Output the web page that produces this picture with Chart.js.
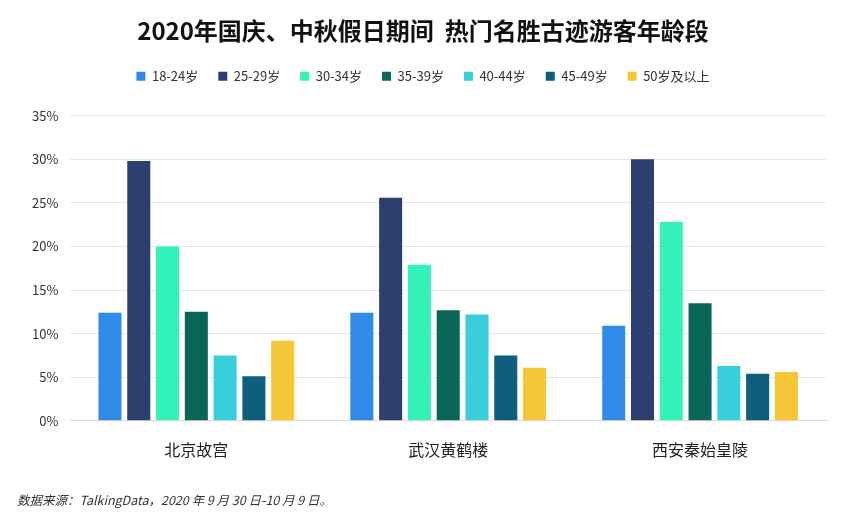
<!DOCTYPE html>
<html>
<head>
<meta charset="utf-8">
<script src="https://cdn.jsdelivr.net/npm/chart.js@4"></script>
<style>
  html, body { margin: 0; padding: 0; background: #fff; }
  #wrap { position: relative; width: 848px; height: 524px; }
  #note {
    position: absolute; left: 17px; top: 490px;
    font: italic 12.5px "Noto Sans CJK SC", "Noto Sans", sans-serif;
    color: #333;
  }
</style>
</head>
<body>
<div id="wrap">
  <canvas id="chart" width="848" height="524"></canvas>
  <div id="note">数据来源：TalkingData，2020 年 9 月 30 日-10 月 9 日。</div>
</div>
<script>
// --- Data ---
const sites = ['北京故宫', '武汉黄鹤楼', '西安秦始皇陵'];
const ageGroups = ['18-24岁', '25-29岁', '30-34岁', '35-39岁', '40-44岁', '45-49岁', '50岁及以上'];

// share of visitors (%) per age group, one value per site
const age18_24 = [12.4, 12.4, 10.9];
const age25_29 = [29.8, 25.6, 30.0];
const age30_34 = [20.0, 17.9, 22.8];
const age35_39 = [12.5, 12.7, 13.5];
const age40_44 = [7.5, 12.2, 6.3];
const age45_49 = [5.1, 7.5, 5.4];
const age50plus = [9.2, 6.1, 5.6];

const yTicks = [0, 5, 10, 15, 20, 25, 30, 35];

// --- Colours ---
const barColors = ['#2F8AE8', '#2D3F6E', '#33F2BA', '#0A6657', '#38CEDC', '#0F5E7E', '#F6C639'];

const seriesValues = [age18_24, age25_29, age30_34, age35_39, age40_44, age45_49, age50plus];

const datasets = ageGroups.map((label, i) => ({
  label,
  data: seriesValues[i],
  backgroundColor: barColors[i],
  borderWidth: 0,
  categoryPercentage: 0.8,
  barPercentage: 0.8
}));

const FONT = '"Noto Sans CJK SC", "Noto Sans", sans-serif';

// extra space between legend and plot area
const legendGap = {
  id: 'legendGap',
  beforeInit(chart) {
    const origFit = chart.legend.fit;
    chart.legend.fit = function () {
      origFit.bind(chart.legend)();
      this.height += 23;
    };
  }
};

new Chart(document.getElementById('chart'), {
  type: 'bar',
  data: { labels: sites, datasets },
  plugins: [legendGap],
  options: {
    responsive: false,
    animation: false,
    layout: { padding: { left: 20, right: 22, top: 16, bottom: 52 } },
    plugins: {
      title: {
        display: true,
        text: '2020年国庆、中秋假日期间  热门名胜古迹游客年龄段',
        color: '#111',
        font: { family: FONT, size: 24, weight: 'bold' },
        padding: { top: 0, bottom: 5 }
      },
      legend: {
        position: 'top',
        labels: {
          color: '#333',
          font: { family: FONT, size: 13 },
          boxWidth: 9,
          boxHeight: 9,
          padding: 20
        }
      },
      tooltip: { enabled: false }
    },
    scales: {
      x: {
        grid: { display: false },
        border: { color: '#d9d9d9' },
        ticks: { color: '#222', font: { family: FONT, size: 16 }, padding: 12 }
      },
      y: {
        min: 0,
        max: 35,
        afterBuildTicks: axis => { axis.ticks = yTicks.map(v => ({ value: v })); },
        grid: { color: '#e6e6e6', drawTicks: false },
        border: { display: false },
        ticks: {
          color: '#333',
          font: { family: FONT, size: 13 },
          padding: 12,
          callback: v => v + '%'
        }
      }
    }
  }
});
</script>
</body>
</html>
